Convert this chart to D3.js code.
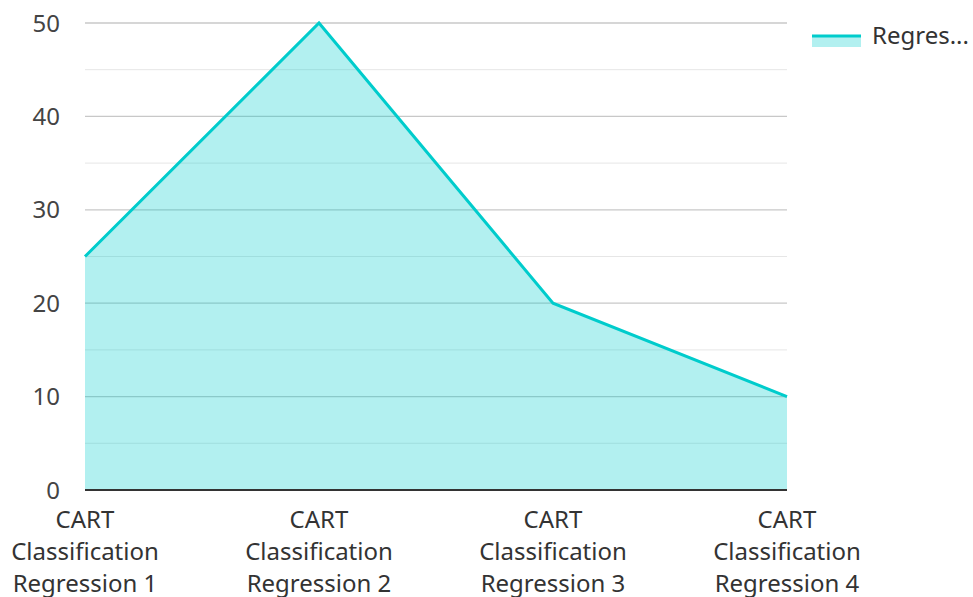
<!DOCTYPE html>
<html><head><meta charset="utf-8">
<script src="https://cdn.jsdelivr.net/npm/d3@7"></script>
<style>body{margin:0;background:#fff;font-family:"Noto Sans",sans-serif;}</style>
</head><body><svg id="c" width="973" height="597"></svg>
<script>
const categories = ["CART Classification Regression 1","CART Classification Regression 2","CART Classification Regression 3","CART Classification Regression 4"];
const labelLines = [["CART","Classification","Regression 1"],["CART","Classification","Regression 2"],["CART","Classification","Regression 3"],["CART","Classification","Regression 4"]];
const values = [25, 50, 20, 10];
const yTicks = [0,10,20,30,40,50];
const minorTicks = [5,15,25,35,45];
const seriesName = "Regres...";

const svg = d3.select("#c");
const x = d3.scalePoint().domain(categories).range([85, 787]);
const y = d3.scaleLinear().domain([0,50]).range([490, 23]);

const g = svg.append("g");
g.selectAll(".minor").data(minorTicks).enter().append("line")
  .attr("x1",85).attr("x2",787).attr("y1",d=>y(d)).attr("y2",d=>y(d))
  .attr("stroke","#e6e6e6").attr("stroke-width",1);
g.selectAll(".major").data(yTicks.filter(d=>d>0)).enter().append("line")
  .attr("x1",85).attr("x2",787).attr("y1",d=>y(d)).attr("y2",d=>y(d))
  .attr("stroke","#c8c8c8").attr("stroke-width",1.3);

const data = categories.map((c,i)=>({c, v: values[i]}));
g.append("path").datum(data)
  .attr("d", d3.area().x(d=>x(d.c)).y0(y(0)).y1(d=>y(d.v)))
  .attr("fill","rgba(0,204,204,0.3)");
g.append("path").datum(data)
  .attr("d", d3.line().x(d=>x(d.c)).y(d=>y(d.v)))
  .attr("fill","none").attr("stroke","#00cccc").attr("stroke-width",3).attr("stroke-linejoin","miter");

g.append("line").attr("x1",85).attr("x2",787).attr("y1",y(0)).attr("y2",y(0))
  .attr("stroke","#333").attr("stroke-width",2);

g.selectAll(".ylab").data(yTicks).enter().append("text")
  .attr("x",60).attr("y",d=>y(d)+8.5).attr("text-anchor","end")
  .attr("font-size",24).attr("fill","#444").text(d=>d);

categories.forEach((c,i)=>{
  const t = g.append("text").attr("text-anchor","middle").attr("font-size",24).attr("fill","#333");
  labelLines[i].forEach((ln,j)=>{
    t.append("tspan").attr("x",x(c)).attr("y",528+j*32).text(ln);
  });
});

const lg = svg.append("g");
lg.append("rect").attr("x",812).attr("y",36).attr("width",49).attr("height",11).attr("fill","rgba(0,204,204,0.3)");
lg.append("line").attr("x1",812).attr("x2",861).attr("y1",36).attr("y2",36).attr("stroke","#00cccc").attr("stroke-width",3);
lg.append("text").attr("x",872).attr("y",44).attr("font-size",24).attr("fill","#333").text(seriesName);
</script></body></html>
